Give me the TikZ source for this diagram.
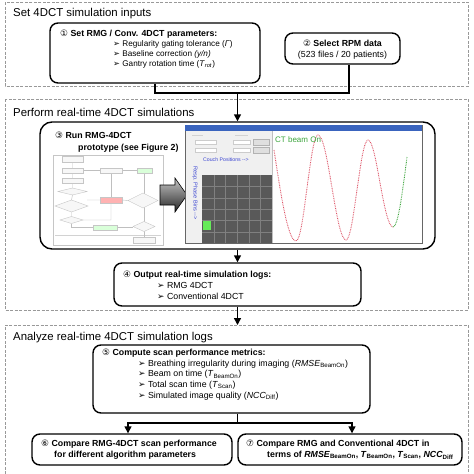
\documentclass[tikz,border=0pt]{standalone}
\usepackage{fontspec}
\setmainfont{Liberation Sans}
\newfontfamily\dejavu{DejaVu Sans}
\usetikzlibrary{arrows.meta}
\definecolor{wave}{RGB}{222,86,104}
\definecolor{beamon}{RGB}{60,165,60}
\definecolor{winblue}{RGB}{58,100,190}
\definecolor{guiblue}{RGB}{60,70,210}
\definecolor{cellgreen}{RGB}{102,235,90}
\newcommand{\cnum}[1]{{\dejavu #1}}
\newcommand{\bul}{{\dejavu ➢}~}
\begin{document}
\begin{tikzpicture}[x=1pt,y=-1pt,
  panel/.style={draw=gray!80,line width=0.9pt,dash pattern=on 3pt off 1.5pt},
  ptitle/.style={anchor=west,inner sep=0,font=\fontsize{11.4}{13}\selectfont},
  stepbox/.style={draw,line width=1.4pt,rounded corners=8pt,inner sep=0},
  txt/.style={anchor=north west,align=left,inner sep=0,font=\fontsize{8.8}{11}\selectfont},
  gtxt/.style={anchor=west,inner sep=0,text=guiblue},
  fc/.style={draw=gray!45,fill=gray!6,line width=0.4pt},
  fl/.style={gray!50,line width=0.4pt},
  link/.style={line width=1.4pt},
  arr/.style={line width=1.4pt,-{Triangle[width=7pt,length=7pt]}}]
\useasboundingbox (0,0) rectangle (474,474);
\fill[white] (0,0) rectangle (474,474);

% dashed panels
\draw[panel] (5,2) rectangle (468,86);
\node[ptitle] (p1) at (13,14) {Set 4DCT simulation inputs};
\draw[panel] (5,99) rectangle (468,310);
\node[ptitle] (p2) at (13,112) {Perform real-time 4DCT simulations};
\draw[panel] (5,474) -- (5,325) -- (468,325) -- (468,474);
\node[ptitle] (p3) at (13,338) {Analyze real-time 4DCT simulation logs};

% step boxes
\node[stepbox,minimum width=210pt,minimum height=60pt] (set) at (155,53) {};
\node[stepbox,minimum width=115pt,minimum height=31pt] (rpm) at (342.5,48.5) {};
\node[stepbox,rounded corners=12pt,minimum width=395pt,minimum height=127pt] (run) at (237.5,185.5) {};
\node[stepbox,minimum width=247pt,minimum height=43pt] (logs) at (237.5,284.5) {};
\node[stepbox,minimum width=277pt,minimum height=68pt] (metrics) at (231.5,379) {};
\node[stepbox,minimum width=200pt,minimum height=31pt] (algo) at (132,449.5) {};
\node[stepbox,minimum width=224pt,minimum height=31pt] (conv) at (350,449.5) {};

% box texts
\node[txt,font=\fontsize{8.2}{10}\selectfont] (t1) at (60,30) {{\fontsize{8.8}{10}\selectfont\cnum{①}~\textbf{Set RMG / Conv. 4DCT parameters:}}\\
\hspace*{53pt}\bul Regularity gating tolerance (\textit{Γ})\\
\hspace*{53pt}\bul Baseline correction \textit{(y/n)}\\
\hspace*{53pt}\bul Gantry rotation time (\textit{T}\textsubscript{\textit{rot}})};
\node[txt,anchor=center,align=center] (t2) at (342.5,49.5) {\cnum{②}~\textbf{Select RPM data}\\(523 files / 20 patients)};
\node[txt,font=\fontsize{8.8}{12}\selectfont] (t3) at (55,132) {\cnum{③}~\textbf{Run RMG-4DCT}\\
\hspace*{23pt}\textbf{prototype (see Figure 2)}};
\node[txt] (t4) at (123,271) {\cnum{④}~\textbf{Output real-time simulation logs:}\\
\hspace*{34pt}\bul RMG 4DCT\\
\hspace*{34pt}\bul Conventional 4DCT};
\node[txt,font=\fontsize{8.8}{10.6}\selectfont] (t5) at (102,349) {\cnum{⑤}~\textbf{Compute scan performance metrics:}\\
\hspace*{36pt}\bul Breathing irregularity during imaging (\textit{RMSE}\textsubscript{BeamOn})\\
\hspace*{36pt}\bul Beam on time (\textit{T}\textsubscript{BeamOn})\\
\hspace*{36pt}\bul Total scan time (\textit{T}\textsubscript{Scan})\\
\hspace*{36pt}\bul Simulated image quality (\textit{NCC}\textsubscript{Diff})};
\node[txt] (t6) at (41,440) {\cnum{⑥}~\textbf{Compare RMG-4DCT scan performance}\\
\hspace*{13pt}\textbf{for different algorithm parameters}};
\node[txt] (t7) at (246,440) {\cnum{⑦}~\textbf{Compare RMG and Conventional 4DCT in}\\
\hspace*{21pt}\textbf{terms of \textit{RMSE}\textsubscript{BeamOn}, \textit{T}\textsubscript{BeamOn}, \textit{T}\textsubscript{Scan}, \textit{NCC}\textsubscript{Diff}}};

% flowchart thumbnail
\draw[gray!45,line width=0.6pt,fill=white] (53,155) rectangle (163,245);
\draw[gray!35,line width=0.4pt] (55,235) -- (161,235);
\draw[fl] (72.5,162) -- (72.5,188) (72.5,195) -- (71.5,200) (71.5,212) -- (71.5,216.5);
\draw[fl] (83,170.5) -- (137,170.5) (111,173) -- (111,197) (144,173) -- (144,237);
\draw[fl] (87,200) -- (100,200) (122,200) -- (128,200.5) (111,203) -- (111,220) -- (83,220);
\draw[fl] (71.5,223.5) -- (71.5,227.5) -- (133,227.5);
\draw[fc] (62,156) rectangle (83,162);
\draw[fc] (62,168) rectangle (83,173);
\draw[fc] (100,168) rectangle (122,173);
\draw[fc,fill=green!15] (137,168) rectangle (152,173);
\draw[fc] (62,178) rectangle (83,183);
\draw[fc] (58,191.5) -- (72.5,188) -- (87,191.5) -- (72.5,195) -- cycle;
\draw[fc] (55,206) -- (71.5,200) -- (88,206) -- (71.5,212) -- cycle;
\draw[fc,fill=red!30] (100,197) rectangle (122,203);
\draw[fc] (128,200.5) -- (143,193) -- (158,200.5) -- (143,208) -- cycle;
\draw[fc] (60,220) -- (71.5,216.5) -- (83,220) -- (71.5,223.5) -- cycle;
\draw[fc,fill=green!15] (93,225) rectangle (117,230);
\draw[fc] (133,226.5) -- (144,221.5) -- (155,226.5) -- (144,231.5) -- cycle;
\draw[fc] (133,237) rectangle (155,243);

% block arrow
\shade[top color=gray!45,bottom color=black!85,draw=black,line width=0.6pt]
  (160,185) -- (175,185) -- (175,178) -- (187,195) -- (175,212) -- (175,205) -- (160,205) -- cycle;

% prototype screenshot
\draw[black!60,line width=0.6pt,fill=white] (185,125) rectangle (422,243);
\fill[winblue] (185,125) rectangle (422,131);
\fill[gray!12] (185.5,131) rectangle (272,242.5);
\draw[gray!50] (272,131) -- (272,243);
\draw[gray!35,line width=0.8pt] (192,135.5) -- (203,135.5) (235,135.5) -- (248,135.5);
\draw[gray!40,fill=white] (195,140) rectangle (216,144.5) (233,140) rectangle (250,144.5);
\draw[gray!40,fill=white] (195,148) rectangle (216,152.5) (233,148) rectangle (250,152.5);
\draw[gray!60,fill=gray!25] (253,139.5) rectangle (269,145) (253,147.5) rectangle (269,153);
\node[gtxt,font=\fontsize{5.2}{6}\selectfont] (couch) at (203,160) {Couch Positions -{}->};
\node[gtxt,font=\fontsize{5.6}{6}\selectfont,rotate=-90] (bins) at (195,166) {Resp. Phase Bins -{}->};
\fill[black!65] (202,175) rectangle (272,243);
\foreach \gx in {213.7,225.3,237,248.7,260.3}
  \draw[black!50] (\gx,175) -- (\gx,243);
\foreach \gy in {186.3,197.7,209,220.3,231.7}
  \draw[black!50] (202,\gy) -- (272,\gy);
\fill[cellgreen] (202.5,220.5) rectangle (211,230);
\draw[wave,line width=0.9pt,dash pattern=on 0.8pt off 0.9pt]
  (274,150) sin (296,241) cos (307,188) sin (318,135) cos (332,188) sin (346,240)
  cos (357,190) sin (368,140) cos (380,183) sin (393,227);
\draw[beamon,line width=0.9pt,dash pattern=on 0.8pt off 0.9pt] (393,227) cos (407,157);
\node[anchor=west,inner sep=0,font=\fontsize{8}{9}\selectfont,text=beamon] (beam) at (275,140) {CT beam On};

% connectors
\coordinate (join) at (237.5,93);
\coordinate (enter) at (237.5,325);
\coordinate (split) at (237.5,423);
\draw[link] (set.south) |- (join) -| ([xshift=6.5pt]rpm.south);
\draw[arr] (join) -- (run.north);
\draw[arr] (run.south) -- (logs.north);
\draw[arr] (logs.south) -- (enter);
\draw[link] (metrics.south -| split) -- (split);
\draw[arr] (split) -| ([xshift=-4pt]algo.north);
\draw[arr] (split) -| ([xshift=2pt]conv.north);
\end{tikzpicture}
\end{document}
